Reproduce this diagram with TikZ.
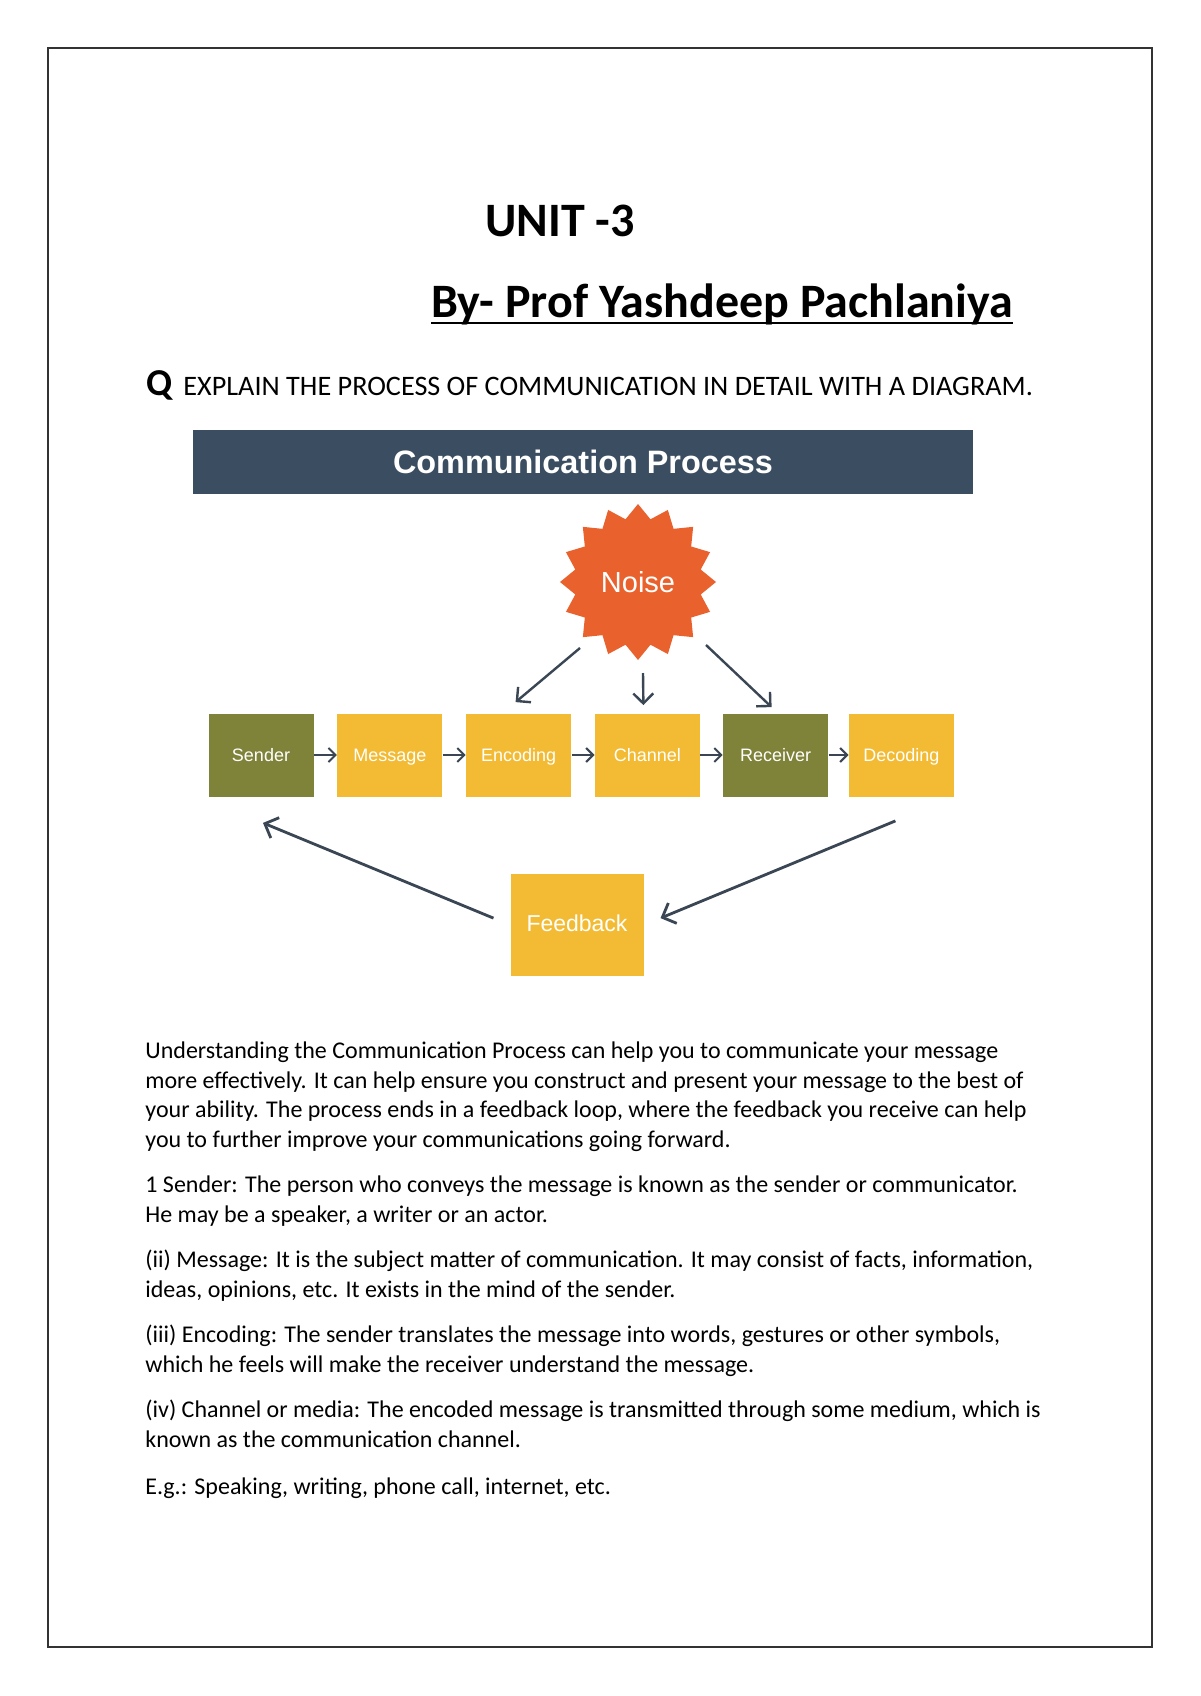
\documentclass[tikz,border=0pt]{standalone}
\usepackage{fontspec}
\setmainfont{Carlito}
\newfontfamily\arialfont{Liberation Sans}
\usetikzlibrary{arrows.meta,positioning,calc,shapes.geometric}
\definecolor{cpslate}{HTML}{3B4D61}
\definecolor{cporange}{HTML}{E9622D}
\definecolor{cpolive}{HTML}{7F8239}
\definecolor{cpgold}{HTML}{F3BB33}
\definecolor{cparrow}{HTML}{3A4654}

\begin{document}
\begin{tikzpicture}[x=0.5pt, y=-0.5pt,
  stage/.style={rectangle, fill=#1, minimum width=52.5pt, minimum height=41.5pt,
                inner sep=0pt, text height=6.5pt, text depth=0pt,
                font=\arialfont\fontsize{9}{10}\selectfont, text=white},
  flowarr/.style={-{Straight Barb[length=3.5pt,width=7pt]}, line width=1pt, cparrow},
  noisearr/.style={-{Straight Barb[length=5pt,width=10pt]}, line width=1.2pt, cparrow},
  fbarr/.style={-{Straight Barb[length=5.5pt,width=11pt]}, line width=1.4pt, cparrow},
  headtxt/.style={anchor=base west, inner sep=0pt},
  bodytxt/.style={anchor=base west, align=left, inner sep=0pt,
                  font=\fontsize{12}{14.75}\selectfont},
]

%% ---- page ----
\fill[white] (0,0) rectangle (1200,1696);
\useasboundingbox (0,0) rectangle (1200,1696);
\draw[line width=1pt, black!80] (48,48) rectangle (1152,1647);

%% ---- heading ----
\node[headtxt, font=\bfseries\fontsize{24}{28}\selectfont] (unit) at (485,237) {UNIT -3};
\node[headtxt, font=\bfseries\fontsize{24}{28}\selectfont] (author) at (431,317)
  {By- Prof Yashdeep Pachlaniya};
\draw[line width=1.2pt] ($(author.base west)+(0,6)$) -- ($(author.base east)+(0,6)$);

% question line
\node[headtxt, font=\bfseries\fontsize{19}{21}\selectfont] (qmark) at (146,395) {Q};
\node[headtxt, font=\fontsize{14.1}{16}\selectfont] (question) at (183,395)
  {EXPLAIN THE PROCESS OF COMMUNICATION IN DETAIL WITH A DIAGRAM.};

%% ---- diagram banner ----
\node[fill=cpslate, minimum width=390pt, minimum height=32pt, inner sep=0pt,
      text=white, font=\arialfont\bfseries\fontsize{16.2}{18}\selectfont]
  (banner) at (583,462) {Communication Process};

%% ---- noise ----
\node[star, star points=16, star point ratio=1.22, fill=cporange, minimum size=78pt,
      inner sep=0pt, text=white, font=\arialfont\fontsize{14.5}{16}\selectfont]
  (noise) at (638,582) {Noise};

%% ---- process chain ----
\node[stage=cpolive] (sender) at (261,755) {Sender};
\node[stage=cpgold, right=11.5pt of sender] (message) {Message};
\node[stage=cpgold, right=11.5pt of message] (encoding) {Encoding};
\node[stage=cpgold, right=11.5pt of encoding] (channel) {Channel};
\node[stage=cpolive, right=11.2pt of channel] (receiver) {Receiver};
\node[stage=cpgold, right=10pt of receiver] (decoding) {Decoding};

\foreach \a/\b in {sender/message, message/encoding, encoding/channel,
                   channel/receiver, receiver/decoding}
  \draw[flowarr] (\a) -- (\b);

% noise hits the chain
\coordinate (nleft) at ($(noise.center)+(-58,66)$);
\coordinate (nmid) at ($(noise.center)+(5,91)$);
\coordinate (nright) at ($(noise.center)+(68,63)$);
\draw[noisearr] (nleft) -- ($(encoding.north)+(-3,-11)$);
\draw[noisearr] (nmid) -- ($(channel.north)+(-4,-8)$);
\draw[noisearr] (nright) -- ($(receiver.north)+(-4,-6)$);

%% ---- feedback loop ----
\node[stage=cpgold, minimum width=66.5pt, minimum height=51pt, text height=6pt,
      font=\arialfont\fontsize{11.5}{13}\selectfont] (feedback) at (577,925) {Feedback};
\coordinate (sback) at ($(sender.south)+(2,26)$);
\coordinate (dback) at ($(decoding.south)+(-6,24)$);
\draw[fbarr, shorten <=9pt] (feedback.west) -- (sback);
\draw[fbarr, shorten >=9pt] (dback) -- (feedback.east);

%% ---- body text (placed by the baseline of each last line) ----
\node[bodytxt] (p1) at (145,1147)
  {Understanding the Communication Process can help you to communicate your message\\
   more effectively. It can help ensure you construct and present your message to the best of\\
   your ability. The process ends in a feedback loop, where the feedback you receive can help\\
   you to further improve your communications going forward.};
\node[bodytxt] (p2) at (145,1222)
  {1 Sender: The person who conveys the message is known as the sender or communicator.\\
   He may be a speaker, a writer or an actor.};
\node[bodytxt] (p3) at (145,1297)
  {(ii) Message: It is the subject matter of communication. It may consist of facts, information,\\
   ideas, opinions, etc. It exists in the mind of the sender.};
\node[bodytxt] (p4) at (145,1372)
  {(iii) Encoding: The sender translates the message into words, gestures or other symbols,\\
   which he feels will make the receiver understand the message.};
\node[bodytxt] (p5) at (145,1447)
  {(iv) Channel or media: The encoded message is transmitted through some medium, which is\\
   known as the communication channel.};
\node[bodytxt] (p6) at (145,1494)
  {E.g.: Speaking, writing, phone call, internet, etc.};

\end{tikzpicture}
\end{document}
